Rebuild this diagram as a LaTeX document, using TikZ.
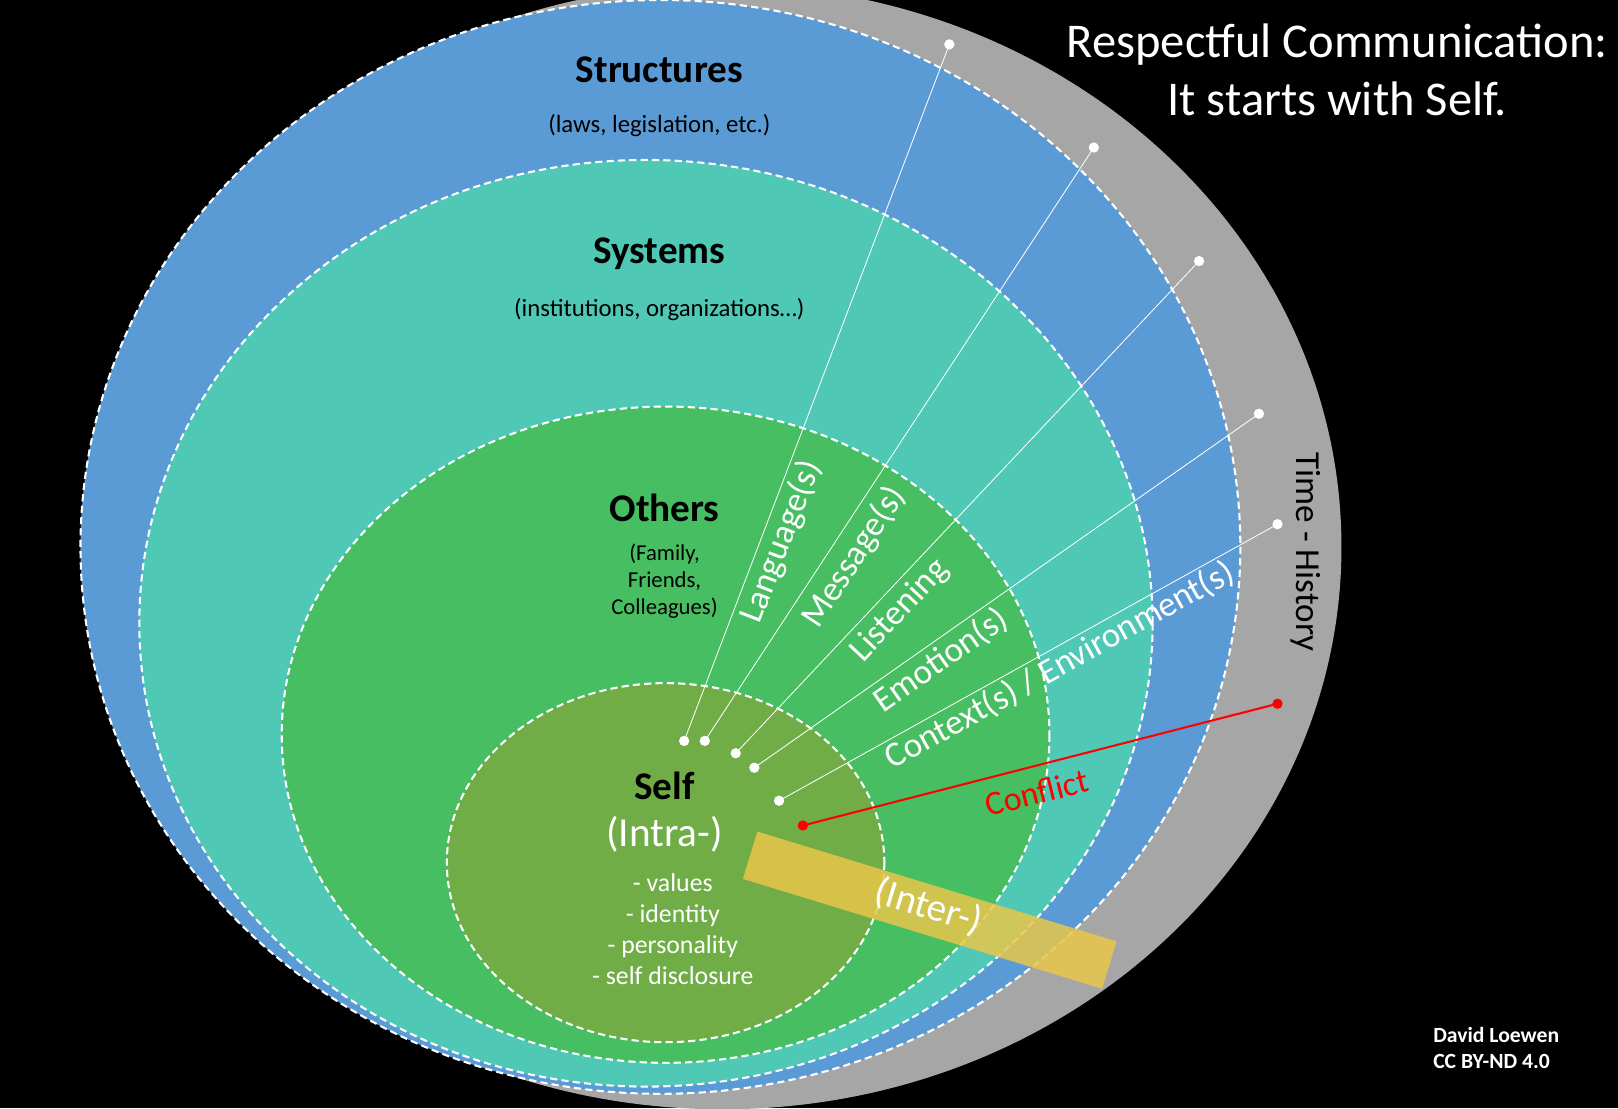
\documentclass[tikz,border=0pt]{standalone}
\usepackage{fontspec}
\setmainfont{Carlito}
\definecolor{ring}{HTML}{A6A6A6}
\definecolor{bl}{HTML}{5B9BD5}
\definecolor{tl}{HTML}{50C8B6}
\definecolor{gr}{HTML}{46BE61}
\definecolor{sf}{HTML}{70AD47}
\definecolor{yl}{HTML}{E8C64A}
\newcommand{\fs}[1]{\fontsize{#1}{1.2\dimexpr #1pt\relax}\selectfont}
\tikzset{x=1pt,y=-1pt,
 zone/.style={draw=white,line width=2pt,dash pattern=on 7pt off 4pt},
 ray/.style={white,line width=0.8pt},
 dotw/.style={circle,fill=white,inner sep=0pt,minimum size=10pt},
 dotr/.style={circle,fill=red,inner sep=0pt,minimum size=10pt},
 lbl/.style={text=white,font=\fs{34}},
 ttl/.style={font=\bfseries\fs{38},text=black},
 sub/.style={font=\fs{24},text=black,align=center}}
\begin{document}
\begin{tikzpicture}
\fill[black] (0,0) rectangle (1568,1074);
\useasboundingbox (0,0) rectangle (1568,1074);
\fill[ring] (700,530) ellipse [x radius=600,y radius=545];
\path[zone,fill=bl] (640,530) ellipse [x radius=562,y radius=530];
\path[zone,fill=tl] (626,604) ellipse [x radius=491,y radius=449];
\path[zone,fill=gr] (645,712) ellipse [x radius=372,y radius=318];
\path[zone,fill=sf] (645,836) ellipse [x radius=212,y radius=174];
% rays
\node[dotw] (a1) at (663,718) {}; \node[dotw] (b1) at (920,43) {};
\node[dotw] (a2) at (683,718) {}; \node[dotw] (b2) at (1060,143) {};
\node[dotw] (a3) at (713,730) {}; \node[dotw] (b3) at (1162,253) {};
\node[dotw] (a4) at (731,744) {}; \node[dotw] (b4) at (1220,401) {};
\node[dotw] (a5) at (755,776) {}; \node[dotw] (b5) at (1238,508) {};
\draw[ray] (a1.center)--(b1.center);
\draw[ray] (a2.center)--(b2.center);
\draw[ray] (a3.center)--(b3.center);
\draw[ray] (a4.center)--(b4.center);
\draw[ray] (a5.center)--(b5.center);
\node[dotr] (c1) at (778,800) {}; \node[dotr] (c2) at (1238,682) {};
\draw[red,line width=2pt] (c1.center)--(c2.center);
% labels
\node[lbl,rotate=69] (l1) at (757,525) {Language(s)};
\node[lbl,rotate=57] (l2) at (828,540) {Message(s)};
\node[lbl,rotate=47] (l3) at (872,592) {Listening};
\node[lbl,rotate=35] (l4) at (912,640) {Emotion(s)};
\node[lbl,rotate=29] (l5) at (1027,645) {Context(s) / Environment(s)};
\node[text=red,font=\fs{33},rotate=14] (l6) at (1005,768) {Conflict};
% inter band
\fill[yl,opacity=0.85,rotate around={-17:(901,882)}] (719,858) rectangle (1083,906);
\node[text=white,font=\fs{38},rotate=-17] (inter) at (900,879) {(Inter-)};
% titles
\node[ttl] (st) at (639,68) {Structures};
\node[sub] (st2) at (639,122) {(laws, legislation, etc.)};
\node[ttl] (sy) at (639,246) {Systems};
\node[sub] (sy2) at (639,300) {(institutions, organizations…)};
\node[ttl] (ot) at (644,492) {Others};
\node[sub,font=\fs{22}] (ot2) at (644,563) {(Family,\\Friends,\\Colleagues)};
\node[ttl] (se) at (644,762) {Self};
\node[text=white,font=\fs{40}] (in) at (644,808) {(Intra-)};
\node[text=white,font=\fs{25},align=center] (li) at (652,900) {- values\\- identity\\- personality\\- self disclosure};
\node[font=\fs{34},rotate=-90] (th) at (1265,535) {Time - History};
\node[text=white,font=\fs{47},align=center] (ti) at (1296,68) {Respectful Communication:\\It starts with Self.};
\node[text=white,font=\bfseries\fs{21},align=left] (au) at (1450,1016) {David Loewen\\CC BY-ND 4.0};
\end{tikzpicture}
\end{document}
